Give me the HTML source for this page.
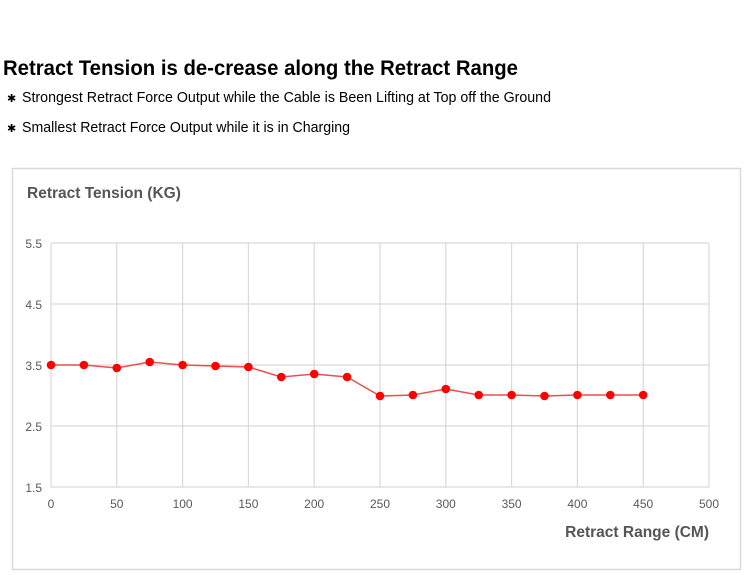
<!DOCTYPE html>
<html><head><meta charset="utf-8"><style>body{margin:0;background:#fff}svg{display:block}</style></head><body>
<svg width="750" height="575" xmlns="http://www.w3.org/2000/svg" font-family="Liberation Sans, sans-serif">
<text x="3" y="75" font-size="21" font-weight="bold" fill="#000" textLength="515" lengthAdjust="spacingAndGlyphs">Retract Tension is de-crease along the Retract Range</text>
<text x="7" y="102" font-size="11" fill="#000">✱</text>
<text x="22" y="102" font-size="14.5" fill="#000" textLength="529" lengthAdjust="spacingAndGlyphs">Strongest Retract Force Output while the Cable is Been Lifting at Top off the Ground</text>
<text x="7" y="132" font-size="11" fill="#000">✱</text>
<text x="22" y="132" font-size="14.5" fill="#000" textLength="328" lengthAdjust="spacingAndGlyphs">Smallest Retract Force Output while it is in Charging</text>
<rect x="12.5" y="168.5" width="728" height="401" fill="#fff" stroke="#d9d9d9" stroke-width="1.5"/>
<text x="27" y="198" font-size="15.5" font-weight="bold" fill="#555">Retract Tension (KG)</text>
<g stroke="#d9d9d9" stroke-width="1.2">
<line x1="51" y1="243" x2="709" y2="243"/><line x1="51" y1="304" x2="709" y2="304"/><line x1="51" y1="365" x2="709" y2="365"/><line x1="51" y1="426" x2="709" y2="426"/><line x1="51" y1="487" x2="709" y2="487"/>
<line x1="51" y1="243" x2="51" y2="487"/><line x1="116.8" y1="243" x2="116.8" y2="487"/><line x1="182.6" y1="243" x2="182.6" y2="487"/><line x1="248.4" y1="243" x2="248.4" y2="487"/><line x1="314.2" y1="243" x2="314.2" y2="487"/><line x1="380" y1="243" x2="380" y2="487"/><line x1="445.8" y1="243" x2="445.8" y2="487"/><line x1="511.6" y1="243" x2="511.6" y2="487"/><line x1="577.4" y1="243" x2="577.4" y2="487"/><line x1="643.2" y1="243" x2="643.2" y2="487"/><line x1="709" y1="243" x2="709" y2="487"/>
</g>
<g font-size="12" fill="#595959" text-anchor="end">
<text x="42" y="248">5.5</text><text x="42" y="309">4.5</text><text x="42" y="370">3.5</text><text x="42" y="431">2.5</text><text x="42" y="492">1.5</text>
</g>
<g font-size="12" fill="#595959" text-anchor="middle">
<text x="51" y="508">0</text><text x="116.8" y="508">50</text><text x="182.6" y="508">100</text><text x="248.4" y="508">150</text><text x="314.2" y="508">200</text><text x="380" y="508">250</text><text x="445.8" y="508">300</text><text x="511.6" y="508">350</text><text x="577.4" y="508">400</text><text x="643.2" y="508">450</text><text x="709" y="508">500</text>
</g>
<text x="709" y="537" font-size="15.5" font-weight="bold" fill="#555" text-anchor="end">Retract Range (CM)</text>
<polyline fill="none" stroke="#e8514f" stroke-width="1.5" points="51,365 83.9,365 116.8,368 149.7,362 182.6,365 215.5,366 248.4,367 281.3,377 314.2,374 347.1,377 380,396 412.9,395 445.8,389 478.7,395 511.6,395 544.5,396 577.4,395 610.3,395 643.2,395"/>
<g fill="#f00">
<circle cx="51" cy="365" r="4.3"/><circle cx="83.9" cy="365" r="4.3"/><circle cx="116.8" cy="368" r="4.3"/><circle cx="149.7" cy="362" r="4.3"/><circle cx="182.6" cy="365" r="4.3"/><circle cx="215.5" cy="366" r="4.3"/><circle cx="248.4" cy="367" r="4.3"/><circle cx="281.3" cy="377" r="4.3"/><circle cx="314.2" cy="374" r="4.3"/><circle cx="347.1" cy="377" r="4.3"/><circle cx="380" cy="396" r="4.3"/><circle cx="412.9" cy="395" r="4.3"/><circle cx="445.8" cy="389" r="4.3"/><circle cx="478.7" cy="395" r="4.3"/><circle cx="511.6" cy="395" r="4.3"/><circle cx="544.5" cy="396" r="4.3"/><circle cx="577.4" cy="395" r="4.3"/><circle cx="610.3" cy="395" r="4.3"/><circle cx="643.2" cy="395" r="4.3"/>
</g>
</svg>
</body></html>
